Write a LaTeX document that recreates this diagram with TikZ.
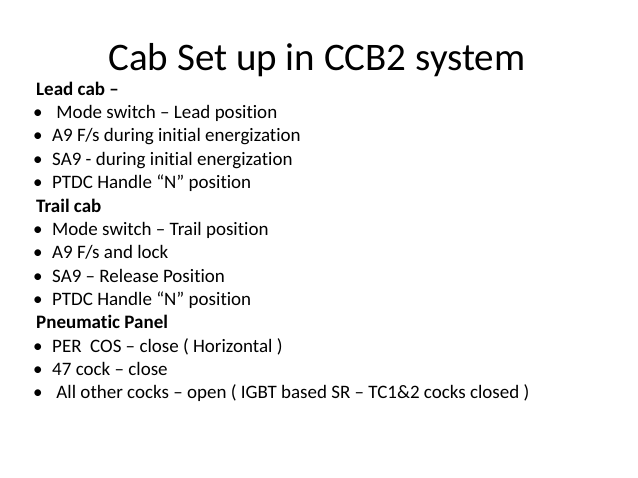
\documentclass[tikz,border=0pt]{standalone}
\usepackage{fontspec}
\setmainfont[Ligatures=NoCommon]{Carlito}
\begin{document}
\begin{tikzpicture}[x=1pt,y=-1pt,
  ttl/.style={anchor=base,font=\fontsize{39}{42}\selectfont},
  hd/.style={anchor=base west,font=\fontsize{19}{22}\selectfont\bfseries,inner sep=0pt},
  it/.style={anchor=base west,font=\fontsize{19}{22}\selectfont,inner sep=0pt}]
\useasboundingbox (0,0) rectangle (638,478);
\node[ttl] (t) at (317,71) {Cab Set up in CCB2 system};
\newcommand{\bl}[3]{\node[it] (b#1) at (33,#2) {•}; \node[it] (l#1) at (52,#2) {#3};}
\node[hd] (h1) at (36,96) {Lead cab –};
\bl{1}{119}{\ Mode switch – Lead position}
\bl{2}{142}{A9 F/s during initial energization}
\bl{3}{166}{SA9 - during initial energization}
\bl{4}{189}{PTDC Handle “N” position}
\node[hd] (h2) at (36,213) {Trail cab};
\bl{5}{236}{Mode switch – Trail position}
\bl{6}{259}{A9 F/s and lock}
\bl{7}{283}{SA9 – Release Position}
\bl{8}{306}{PTDC Handle “N” position}
\node[hd] (h3) at (36,329) {Pneumatic Panel};
\bl{9}{353}{PER\ \ COS – close ( Horizontal )}
\bl{10}{376}{47 cock – close}
\bl{11}{399}{\ All other cocks – open ( IGBT based SR – TC1\&2 cocks closed )}
\end{tikzpicture}
\end{document}
